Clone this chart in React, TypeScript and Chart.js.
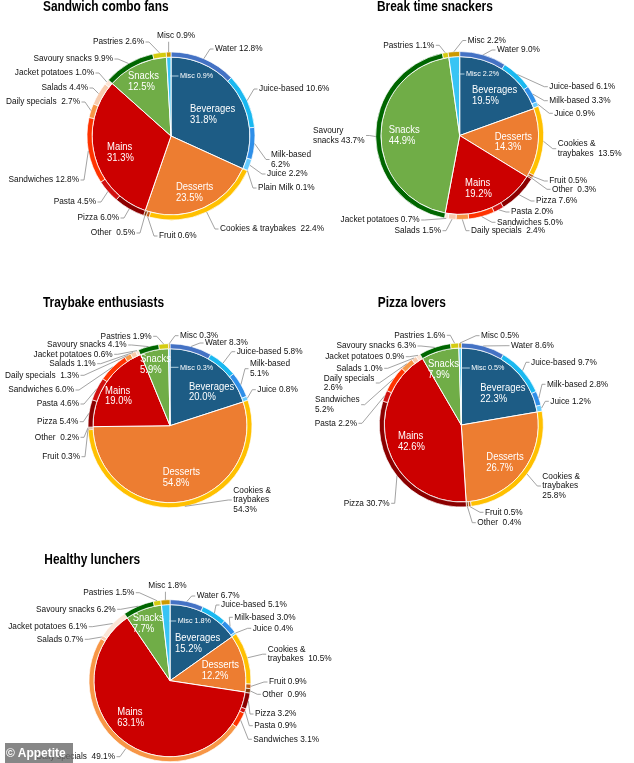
import React, { useEffect, useRef } from "react";
import { Chart, registerables } from "chart.js";
Chart.register(...registerables);

const W = 634;
const H = 763;
const FONT = "'Liberation Sans', Arial, sans-serif";

// ---------- data ----------
const titles = ["Sandwich combo fans", "Break time snackers", "Traybake enthusiasts", "Pizza lovers", "Healthy lunchers"];
const mainCategories = ["Beverages", "Desserts", "Mains", "Snacks", "Misc"];
const subCategories = [
  "Water", "Juice-based", "Milk-based", "Juice", "Plain Milk",
  "Cookies & traybakes", "Fruit", "Other",
  "Pizza", "Pasta", "Sandwiches", "Daily specials", "Salads", "Jacket potatoes",
  "Savoury snacks", "Pastries", "Misc",
];

const sandwichMain = [31.8, 23.5, 31.3, 12.5, 0.9];
const sandwichSub = [12.8, 10.6, 6.2, 2.2, 0.1, 22.4, 0.6, 0.5, 6.0, 4.5, 12.8, 2.7, 4.4, 1.0, 9.9, 2.6, 0.9];
const breakMain = [19.5, 14.3, 19.2, 44.9, 2.2];
const breakSub = [9.0, 6.1, 3.3, 0.9, 0, 13.5, 0.5, 0.3, 7.6, 2.0, 5.0, 2.4, 1.5, 0.7, 43.7, 1.1, 2.2];
const traybakeMain = [20.0, 54.8, 19.0, 5.9, 0.3];
const traybakeSub = [8.3, 5.8, 5.1, 0.8, 0, 54.3, 0.3, 0.2, 5.4, 4.6, 6.0, 1.3, 1.1, 0.6, 4.1, 1.9, 0.3];
const pizzaMain = [22.3, 26.7, 42.6, 7.9, 0.5];
const pizzaSub = [8.6, 9.7, 2.8, 1.2, 0, 25.8, 0.5, 0.4, 30.7, 2.2, 5.2, 2.6, 1.0, 0.9, 6.3, 1.6, 0.5];
const healthyMain = [15.2, 12.2, 63.1, 7.7, 1.8];
const healthySub = [6.7, 5.1, 3.0, 0.4, 0, 10.5, 0.9, 0.9, 3.2, 0.9, 3.1, 49.1, 0.7, 6.1, 6.2, 1.5, 1.8];

// ---------- styles ----------
const mainColors = ["#1D5C85", "#ED7D31", "#CC0000", "#70AD47", "#38C4F4"];
const subColors = [
  "#4472C4", "#1AB8F0", "#2F8FE8", "#66CCFF", "#1F4E79",
  "#FFC000", "#C55A11", "#843C0C",
  "#8B0000", "#D01010", "#FF3300", "#F79646", "#F8CBAD", "#FBE5D6",
  "#006600", "#D4CC10", "#CC9900",
];
const DOUBLE_GAP = new Set(["Cookies & traybakes", "Other", "Daily specials"]);

// label layout: [dx, dy, align, wrap(words per line)] relative to pie centre
type Lay = [number, number, "l" | "r", number[]?] | null;
const sandwichLabelPos: Lay[] = [
  [44, -87, "l"], [88, -47, "l"], [100, 23.5, "l", [1, 1]], [96, 38, "l"], [87, 52, "l"],
  [49, 93, "l"], [-12, 100, "l"], [-36, 97, "r"],
  [-52, 82, "r"], [-75, 66, "r"], [-92, 44, "r"], [-91, -34, "r"], [-83, -48, "r"], [-77, -63, "r"],
  [-58, -77, "r"], [-27, -94, "r"], [-14, -100, "l"],
];
const breakLabelPos: Lay[] = [
  [37.3, -85.5, "l"], [89.6, -48.8, "l"], [89.6, -34.8, "l"], [94.6, -22.2, "l"], null,
  [98, 13.2, "l", [2, 2]], [89.6, 45.5, "l"], [92.3, 53.8, "l"],
  [76.3, 65.5, "l"], [51.3, 76.5, "l"], [37.3, 86.8, "l"], [11.3, 95.2, "l"], [-18.7, 95.2, "r"], [-40, 84.5, "r"],
  [-146.7, 0, "l", [1, 2]], [-25.4, -90.2, "r"], [8, -95, "l"],
];
const traybakeLabelPos: Lay[] = [
  [35, -82.7, "l"], [66.7, -74, "l"], [80, -57, "l", [1, 1]], [87.3, -36, "l"], null,
  [63.3, 74.3, "l", [2, 1, 1]], [-90, 31, "r"], [-91, 11.6, "r"],
  [-91.7, -4, "r"], [-91, -21.7, "r"], [-96, -35.7, "r"], [-91, -50.4, "r"], [-74.3, -62, "r"], [-57.3, -71.4, "r"],
  [-43.3, -80.7, "r"], [-18.3, -89.4, "r"], [10, -90, "l"],
];
const pizzaLabelPos: Lay[] = [
  [49.7, -79.3, "l"], [69.7, -62.7, "l"], [85.7, -40.7, "l"], [89, -23.7, "l"], null,
  [81, 61, "l", [2, 1, 1]], [23.7, 87.3, "l"], [16, 97.7, "l"],
  [-71.6, 78.3, "r"], [-104.3, -1.7, "r"], [-146.3, -20.3, "l", [1, 1]], [-137.6, -42, "l", [2, 1]], [-78.6, -56.7, "r"], [-57, -68.3, "r"],
  [-45.3, -79, "r"], [-16, -89.7, "r"], [19.7, -89.3, "l"],
];
const healthyLabelPos: Lay[] = [
  [26.7, -84.7, "l"], [51, -75.7, "l"], [64.3, -63.4, "l"], [82.7, -52.4, "l"], null,
  [97.7, -26.5, "l", [2, 2]], [99, 1.3, "l"], [92.3, 13.6, "l"],
  [85, 33.3, "l"], [84.3, 45, "l"], [83.3, 58.6, "l"], [-55, 76, "r"], [-86.7, -41.4, "r"], [-82.7, -54, "r"],
  [-54.3, -71.4, "r"], [-35.7, -88, "r"], [-21.7, -94.7, "l"],
];
// inner labels [dx, dy of first line]; last entry = Misc
const sandwichInnerPos = [[19, -27], [5, 51], [-64, 11.3], [-43, -60], [9, -60]];
const breakInnerPos = [[12.3, -45.5], [35, 1.2], [5.3, 47.8], [-71, -5.5], [6.3, -61.5]];
const traybakeInnerPos = [[19, -39], [-7.3, 46.3], [-65, -35], [-30, -66.4], [10, -58.4]];
const pizzaInnerPos = [[19, -36.7], [25, 32.3], [-63.3, 11], [-33.3, -61], [10, -57]];
const healthyInnerPos = [[5, -42.4], [31.7, -15.7], [-52.7, 31.3], [-37.3, -62.4], [7.7, -59.7]];

const PIES = [
  { title: titles[0], main: sandwichMain, sub: sandwichSub, cx: 171, cy: 136, r: 84, tx: 43, ty: 7.5, outer: sandwichLabelPos, inner: sandwichInnerPos },
  { title: titles[1], main: breakMain, sub: breakSub, cx: 459.7, cy: 135.5, r: 84, tx: 377, ty: 7.5, outer: breakLabelPos, inner: breakInnerPos },
  { title: titles[2], main: traybakeMain, sub: traybakeSub, cx: 170, cy: 425.7, r: 82, tx: 43, ty: 303.3, outer: traybakeLabelPos, inner: traybakeInnerPos },
  { title: titles[3], main: pizzaMain, sub: pizzaSub, cx: 461.3, cy: 425, r: 82, tx: 377.7, ty: 303.3, outer: pizzaLabelPos, inner: pizzaInnerPos },
  { title: titles[4], main: healthyMain, sub: healthySub, cx: 170, cy: 680.7, r: 81, tx: 44.3, ty: 560, outer: healthyLabelPos, inner: healthyInnerPos },
];

// ---------- helpers ----------
function drawText(ctx: CanvasRenderingContext2D, text: string, x: number, y: number, align: CanvasTextAlign, font: string, color: string, sx: number) {
  ctx.save();
  ctx.font = font;
  ctx.fillStyle = color;
  ctx.textBaseline = "middle";
  ctx.textAlign = align;
  ctx.translate(x, y);
  ctx.scale(sx, 1);
  ctx.fillText(text, 0, 0);
  ctx.restore();
}
function textWidth(ctx: CanvasRenderingContext2D, text: string, font: string, sx: number) {
  ctx.save();
  ctx.font = font;
  const w = ctx.measureText(text).width * sx;
  ctx.restore();
  return w;
}
function pct(v: number) {
  return v.toFixed(1) + "%";
}
function buildLines(name: string, p: string, wrap?: number[]) {
  const gap = DOUBLE_GAP.has(name) ? "  " : " ";
  const tokens = [...name.split(" "), p];
  if (!wrap) return [name + gap + p];
  const lines: string[] = [];
  let i = 0;
  for (const n of wrap) {
    const slice = tokens.slice(i, i + n);
    i += n;
    let s = "";
    slice.forEach((t, j) => {
      if (j > 0) s += t === p && i === tokens.length && j === slice.length - 1 ? gap : " ";
      s += t;
    });
    lines.push(s);
  }
  return lines;
}

const OUT_FONT = `9px ${FONT}`;
const OUT_SX = 0.92;
const OUT_LH = 9.5;
const IN_FONT = `11px ${FONT}`;
const IN_SX = 0.86;
const IN_LH = 10.7;
const MISC_FONT = `8px ${FONT}`;
const TITLE_FONT = `bold 14px ${FONT}`;

function makeLabelPlugin(pie: any) {
  return {
    id: "pieLabels",
    afterDatasetsDraw(chart: any) {
      const ctx: CanvasRenderingContext2D = chart.ctx;
      const outerMeta = chart.getDatasetMeta(0);
      const first = outerMeta.data[0];
      const cx = first.x;
      const cy = first.y;

      drawText(ctx, pie.title, pie.tx, pie.ty, "left", TITLE_FONT, "#000", 0.85);

      // outer labels with leader lines
      outerMeta.data.forEach((arc: any, i: number) => {
        const lay = pie.outer[i];
        const v = pie.sub[i];
        if (!lay || !v) return;
        const [dx, dy, al, wrap] = lay;
        const mid = (arc.startAngle + arc.endAngle) / 2;
        const ax = cx + Math.cos(mid) * arc.outerRadius;
        const ay = cy + Math.sin(mid) * arc.outerRadius;
        const lines = buildLines(subCategories[i], pct(v), wrap);
        const wMax = Math.max(...lines.map((l) => textWidth(ctx, l, OUT_FONT, OUT_SX)));
        const lx = cx + dx;
        const ly = cy + dy;
        const x0 = al === "l" ? lx : lx - wMax;
        const x1 = al === "l" ? lx + wMax : lx;
        const y0 = ly - (lines.length * OUT_LH) / 2;
        const y1 = ly + (lines.length * OUT_LH) / 2;

        ctx.save();
        ctx.strokeStyle = "#8c8c8c";
        ctx.lineWidth = 0.8;
        ctx.beginPath();
        if (ax < x0 - 3) {
          ctx.moveTo(ax, ay);
          ctx.lineTo(x0 - 5, ly);
          ctx.lineTo(x0 - 1.5, ly);
        } else if (ax > x1 + 3) {
          ctx.moveTo(ax, ay);
          ctx.lineTo(x1 + 5, ly);
          ctx.lineTo(x1 + 1.5, ly);
        } else {
          const ty = ay < y0 ? y0 - 1 : y1 + 1;
          ctx.moveTo(ax, ay);
          ctx.lineTo(ax, ty);
        }
        ctx.stroke();
        ctx.restore();

        lines.forEach((l, k) => {
          const yy = y0 + OUT_LH * (k + 0.5);
          drawText(ctx, l, x0, yy, "left", OUT_FONT, "#111", OUT_SX);
        });
      });

      // inner labels
      for (let i = 0; i < 4; i++) {
        const [dx, dy] = pie.inner[i];
        drawText(ctx, mainCategories[i], cx + dx, cy + dy, "left", IN_FONT, "#fff", IN_SX);
        drawText(ctx, pct(pie.main[i]), cx + dx, cy + dy + IN_LH, "left", IN_FONT, "#fff", IN_SX);
      }
      const [mdx, mdy] = pie.inner[4];
      ctx.save();
      ctx.strokeStyle = "#d8eef8";
      ctx.lineWidth = 0.8;
      ctx.beginPath();
      ctx.moveTo(cx - 1, cy + mdy);
      ctx.lineTo(cx + mdx - 1.5, cy + mdy);
      ctx.stroke();
      ctx.restore();
      drawText(ctx, `${mainCategories[4]} ${pct(pie.main[4])}`, cx + mdx, cy + mdy, "left", MISC_FONT, "#fff", 0.9);
    },
  };
}

export default function App() {
  const refs = useRef<(HTMLCanvasElement | null)[]>([]);

  useEffect(() => {
    const charts = PIES.map((pie, idx) => {
      const canvas = refs.current[idx] as HTMLCanvasElement;
      const R = pie.r;
      return new Chart(canvas, {
        type: "pie",
        data: {
          labels: subCategories,
          datasets: [
            {
              data: pie.sub,
              backgroundColor: subColors,
              borderColor: "#ffffff",
              borderWidth: 0.7,
              weight: 1,
            },
            {
              data: pie.main,
              backgroundColor: mainColors,
              borderColor: "#ffffff",
              borderWidth: 1,
              weight: 15.5,
            },
          ],
        },
        options: {
          responsive: false,
          animation: false,
          devicePixelRatio: 1,
          events: [],
          radius: R,
          layout: {
            padding: {
              left: pie.cx - R,
              right: W - pie.cx - R,
              top: pie.cy - R,
              bottom: H - pie.cy - R,
            },
          },
          plugins: {
            legend: { display: false },
            tooltip: { enabled: false },
            title: { display: false },
          },
        } as any,
        plugins: [makeLabelPlugin(pie)],
      });
    });
    return () => charts.forEach((c) => c.destroy());
  }, []);

  return (
    <div style={{ position: "absolute", left: 0, top: 0, width: W, height: H, background: "#fff", overflow: "hidden" }}>
      {PIES.map((_, i) => (
        <canvas
          key={i}
          ref={(el) => {
            refs.current[i] = el;
          }}
          width={W}
          height={H}
          style={{ position: "absolute", left: 0, top: 0 }}
        />
      ))}
      <div
        style={{
          position: "absolute",
          left: 5,
          top: 743,
          width: 68,
          height: 20,
          background: "rgba(105,105,105,0.8)",
          color: "#fff",
          fontFamily: FONT,
          fontWeight: "bold",
          fontSize: 12,
          lineHeight: "20px",
          paddingLeft: 1,
          boxSizing: "border-box",
          whiteSpace: "nowrap",
        }}
      >
        © Appetite
      </div>
    </div>
  );
}
